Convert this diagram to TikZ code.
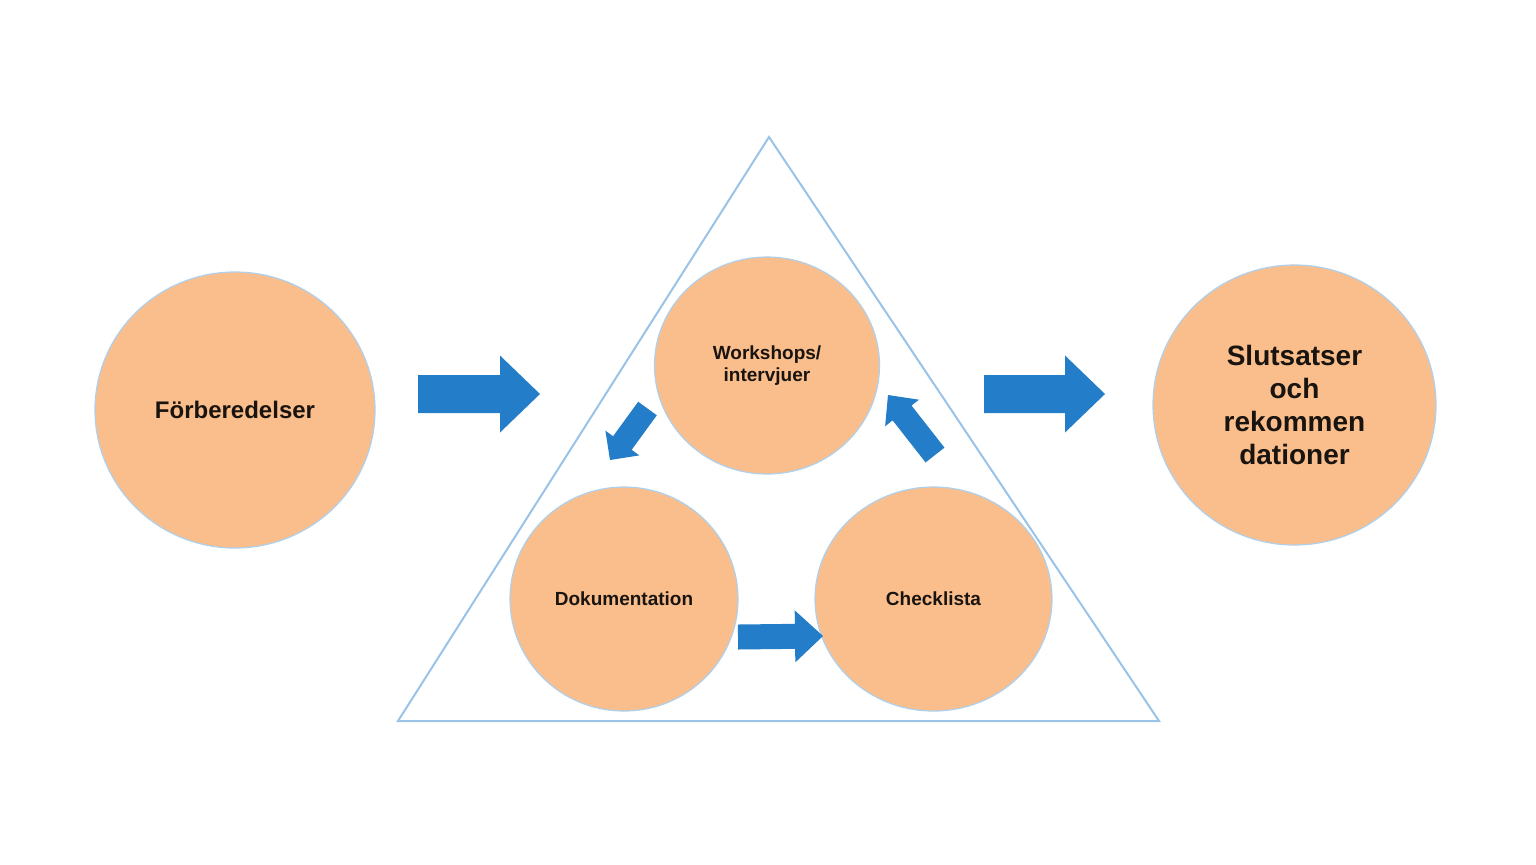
\documentclass[tikz,border=0pt]{standalone}
\usepackage{fontspec}
\setmainfont{Liberation Sans}
\usetikzlibrary{calc,shapes.geometric}
\definecolor{disc}{RGB}{250,190,140}
\definecolor{discline}{RGB}{175,208,236}
\definecolor{tri}{RGB}{155,195,230}
\definecolor{arr}{RGB}{35,125,200}
\definecolor{txt}{RGB}{25,20,15}
\newcommand\blockarr[5]{%
  \coordinate (#1#2b) at ($(#2)!#5!(#1)$);
  \fill[arr] ($(#1)!#3!90:(#2)$) -- ($(#1#2b)!#3!90:(#2)$) -- ($(#1#2b)!#4!90:(#2)$)
    -- (#2) -- ($(#1#2b)!#4!-90:(#2)$) -- ($(#1#2b)!#3!-90:(#2)$) -- ($(#1)!#3!-90:(#2)$) -- cycle;}
\tikzset{
  disc/.style={ellipse, fill=disc, draw=discline, line width=0.6pt, text=txt, align=center, inner sep=0pt},
  bigtxt/.style={font=\bfseries\fontsize{12}{14}\selectfont},
  endtxt/.style={font=\bfseries\fontsize{14}{16.5}\selectfont},
  smalltxt/.style={font=\bfseries\fontsize{9.5}{11}\selectfont},
  triline/.style={draw=tri, line width=1pt, line join=miter}
}
\begin{document}
\begin{tikzpicture}[x=0.5pt, y=-0.5pt]
\useasboundingbox[fill=white] (0,0) rectangle (1536,864);

% triangle
\coordinate (ta) at (769,137);
\coordinate (tl) at (398,721);
\coordinate (tr) at (1159,721);
\draw[triline] (ta) -- (tl) -- (tr) -- cycle;

% discs
\node[disc, bigtxt, minimum width=140pt, minimum height=138pt] (f) at (235,410) {Förberedelser};
\node[disc, endtxt, minimum width=141.5pt, minimum height=140pt] (s) at (1294.5,405) {Slutsatser\\och\\rekommen\\dationer};
\node[disc, smalltxt, minimum width=112.5pt, minimum height=108.5pt] (w) at (767,365.5) {Workshops/\\intervjuer};
\node[disc, smalltxt, minimum width=114pt, minimum height=112pt] (d) at (624,599) {Dokumentation};
\node[disc, smalltxt, minimum width=118.5pt, minimum height=112pt] (c) at (933.5,599) {Checklista};

% arrow end points
\coordinate (a1t) at (418,394);   \coordinate (a1h) at (540,394);
\coordinate (a2t) at (984,394);   \coordinate (a2h) at (1105,394);
\coordinate (a3t) at (738,637);   \coordinate (a3h) at (823,636);
\coordinate (a4t) at (647.5,408.5); \coordinate (a4h) at (610,460);
\coordinate (a5t) at (935,455);   \coordinate (a5h) at (888,395);

\blockarr{a1t}{a1h}{9.5pt}{19.25pt}{20pt}
\blockarr{a2t}{a2h}{9.5pt}{19.25pt}{20pt}
\blockarr{a3t}{a3h}{6.25pt}{13pt}{14pt}
\blockarr{a4t}{a4h}{5.75pt}{10.5pt}{10.5pt}
\blockarr{a5t}{a5h}{6pt}{10.75pt}{11.4pt}
\end{tikzpicture}
\end{document}
